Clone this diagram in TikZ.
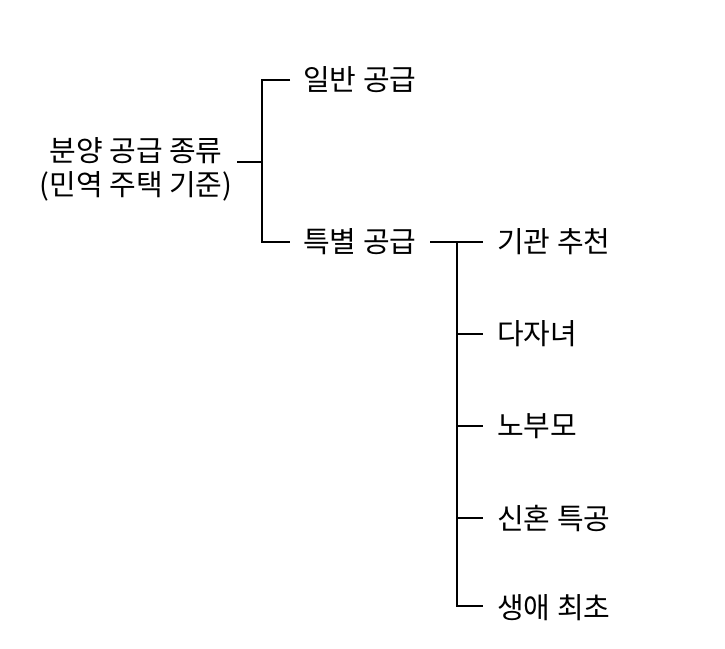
\documentclass[tikz,border=0pt]{standalone}
\usepackage{fontspec}
\setmainfont{Noto Sans CJK KR}
\begin{document}
\begin{tikzpicture}[x=1pt,y=-1pt,
  lbl/.style={anchor=west,inner sep=0pt,font=\fontsize{29}{34}\selectfont},
  thick1/.style={line width=2.6pt},
  thin1/.style={line width=1.5pt}]
\useasboundingbox (0,0) rectangle (725,648);
\node[align=center,inner sep=0pt,font=\fontsize{29}{34}\selectfont] (root) at (136,169) {분양 공급 종류\\(민역 주택 기준)};
\coordinate (r) at (237,162);
\coordinate (j) at (262,162);
\node[lbl] (a) at (303,80) {일반 공급};
\node[lbl] (b) at (303,242) {특별 공급};
\draw[thick1] (r) -- (j);
\draw[thick1] (290,80) -- (262,80) -- (262,242) -- (290,242);
\node[lbl] (c1) at (497,242) {기관 추천};
\node[lbl] (c2) at (497,334) {다자녀};
\node[lbl] (c3) at (497,426) {노부모};
\node[lbl] (c4) at (497,518) {신혼 특공};
\node[lbl] (c5) at (497,608) {생애 최초};
\draw[thin1] (430,242) -- (483,242);
\draw[thin1] (457,242) -- (457,606) -- (483,606);
\foreach \y in {334,426,518} \draw[thin1] (457,\y) -- (483,\y);
\end{tikzpicture}
\end{document}
